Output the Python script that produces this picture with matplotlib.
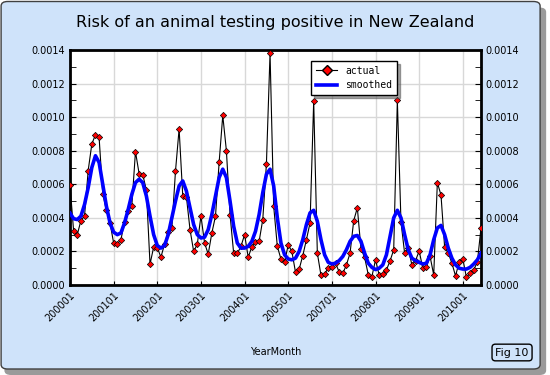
import matplotlib
matplotlib.use('Agg')
import matplotlib.pyplot as plt
import numpy as np
from matplotlib.patches import FancyBboxPatch
from matplotlib.ticker import MultipleLocator, FuncFormatter
from matplotlib.lines import Line2D

# meses 2000-01 .. 2010-06, sin 2006
years = [2000, 2001, 2002, 2003, 2004, 2005, 2007, 2008, 2009, 2010]
months = ['%d%02d' % (y, m) for y in years for m in range(1, 13)][:114]

# valores en unidades de 1e-4
actual = [5.94, 3.2, 3.0, 3.84, 4.12, 6.82, 8.4, 8.95, 8.8, 5.44, 4.46, 3.7,
          2.5, 2.44, 2.7, 3.77, 4.4, 4.72, 7.95, 6.63, 6.58, 5.65, 1.24, 2.26,
          2.22, 1.66, 2.44, 3.18, 3.38, 6.78, 9.3, 5.3, 5.26, 3.3, 2.0, 2.43,
          4.12, 2.5, 1.84, 3.1, 4.1, 7.3, 10.1, 8.0, 4.2, 1.88, 1.88, 2.3,
          3.0, 1.65, 2.29, 2.54, 2.6, 3.9, 7.2, 13.8, 4.7, 2.3, 1.55, 1.36,
          2.4, 2.0, 0.76, 0.94, 1.75, 2.7, 3.7, 10.95, 1.9, 0.58, 0.64, 1.04,
          1.07, 1.3, 0.78, 0.69, 1.2, 1.9, 3.83, 4.6, 2.15, 1.65, 0.62, 0.5,
          1.5, 0.6, 0.64, 0.9, 1.44, 2.1, 11.0, 3.75, 1.9, 2.2, 1.19, 1.45,
          2.03, 1.0, 1.1, 1.7, 0.6, 6.1, 5.36, 2.26, 1.9, 1.3, 0.54, 1.37,
          1.55, 0.45, 0.72, 0.9, 1.37, 3.4]

smoothed = [4.28, 3.95, 3.9, 4.1, 4.8, 5.8, 7.0, 7.7, 7.3, 6.0, 4.7, 3.7,
            3.15, 3.0, 3.1, 3.7, 4.5, 5.4, 6.1, 6.3, 6.1, 5.3, 4.1, 3.0,
            2.35, 2.2, 2.35, 3.0, 4.0, 5.0, 5.9, 6.2, 5.6, 4.6, 3.6, 3.0,
            2.8, 2.85, 3.3, 4.2, 5.3, 6.4, 6.9, 6.4, 5.0, 3.5, 2.5, 2.2,
            2.2, 2.3, 2.6, 3.2, 4.2, 5.5, 6.6, 6.9, 5.9, 4.0, 2.5, 1.8,
            1.55, 1.5, 1.6, 2.0, 2.7, 3.6, 4.3, 4.45, 3.8, 2.7, 1.8, 1.35,
            1.25, 1.3, 1.45, 1.7, 2.1, 2.6, 2.9, 2.95, 2.6, 1.9, 1.3, 1.05,
            0.92, 1.0, 1.2, 1.8, 2.9, 4.0, 4.45, 4.0, 3.0, 2.1, 1.6, 1.45,
            1.35, 1.25, 1.3, 1.8, 2.7, 3.4, 3.55, 3.0, 2.2, 1.6, 1.2, 1.0,
            0.95, 0.95, 1.05, 1.25, 1.5, 1.9]

actual = np.array(actual) * 1e-4
smoothed = np.array(smoothed) * 1e-4
x = np.arange(len(months))

fondo = '#cfe3fa'

fig = plt.figure(figsize=(5.5, 3.75), dpi=100)
fig.patch.set_facecolor('white')

# sombra y panel azul
sombra = FancyBboxPatch((0.008, 0.0), 0.985, 0.98, boxstyle='round,pad=0,rounding_size=0.012',
                        transform=fig.transFigure, fc='#9a9a9a', ec='none', zorder=-11)
panel = FancyBboxPatch((0.002, 0.016), 0.98, 0.98, boxstyle='round,pad=0,rounding_size=0.012',
                       transform=fig.transFigure, fc=fondo, ec='#404040', lw=1, zorder=-10)
fig.add_artist(sombra)
fig.add_artist(panel)

ax = fig.add_axes([70 / 550, 90 / 375, 411 / 550, 235 / 375])
ax.set_facecolor('white')

ax.plot(x, actual, color='black', lw=0.8, zorder=3)
ax.plot(x, actual, ls='none', marker='D', ms=3.2, mfc='red', mec='black', mew=0.5, zorder=4)
ax.plot(x, smoothed, color='#0000ff', lw=2.6, zorder=5)

ax.set_xlim(0, len(months) - 1)
ax.set_ylim(0, 0.0014)
ax.set_xticks(x[::12])
ax.set_xticklabels(months[::12], rotation=45, ha='right', va='top', rotation_mode='anchor', fontsize=7)
ax.yaxis.set_major_locator(MultipleLocator(0.0002))
ax.yaxis.set_minor_locator(MultipleLocator(0.0001))
ax.yaxis.set_major_formatter(FuncFormatter(lambda v, p: '%.4f' % v))
ax.tick_params(axis='y', which='both', direction='in', length=4, left=True, right=True,
               labelleft=True, labelright=True, labelsize=7)
ax.tick_params(axis='x', direction='in', length=3, pad=4)
ax.grid(True, which='major', color='#d8d8d8', lw=1)
ax.set_axisbelow(True)
for s in ax.spines.values():
    s.set_linewidth(2)

titulo = 'Risk of an animal testing positive in New Zealand'
fig.text(0.5, 0.94, titulo, ha='center', va='center', fontsize=11.5)
fig.text(0.501, 0.061, 'YearMonth', ha='center', va='center', fontsize=7)
fig.text(0.931, 0.06, 'Fig 10', ha='center', va='center', fontsize=8,
         bbox=dict(boxstyle='round,pad=0.3', fc='none', ec='black', lw=1))

h1 = Line2D([], [], color='black', lw=0.8, marker='D', ms=5, mfc='red', mec='black')
h2 = Line2D([], [], color='#0000ff', lw=2.6)
leg = ax.legend([h1, h2], ['actual', 'smoothed'], loc='upper left', bbox_to_anchor=(0.575, 0.975),
                prop={'family': 'DejaVu Sans Mono', 'size': 7}, fancybox=False, shadow=True,
                framealpha=1, edgecolor='black', handlelength=2.2, borderpad=0.5)
leg.get_frame().set_linewidth(1)

fig.savefig('out.png', dpi=100, facecolor=fig.get_facecolor())
